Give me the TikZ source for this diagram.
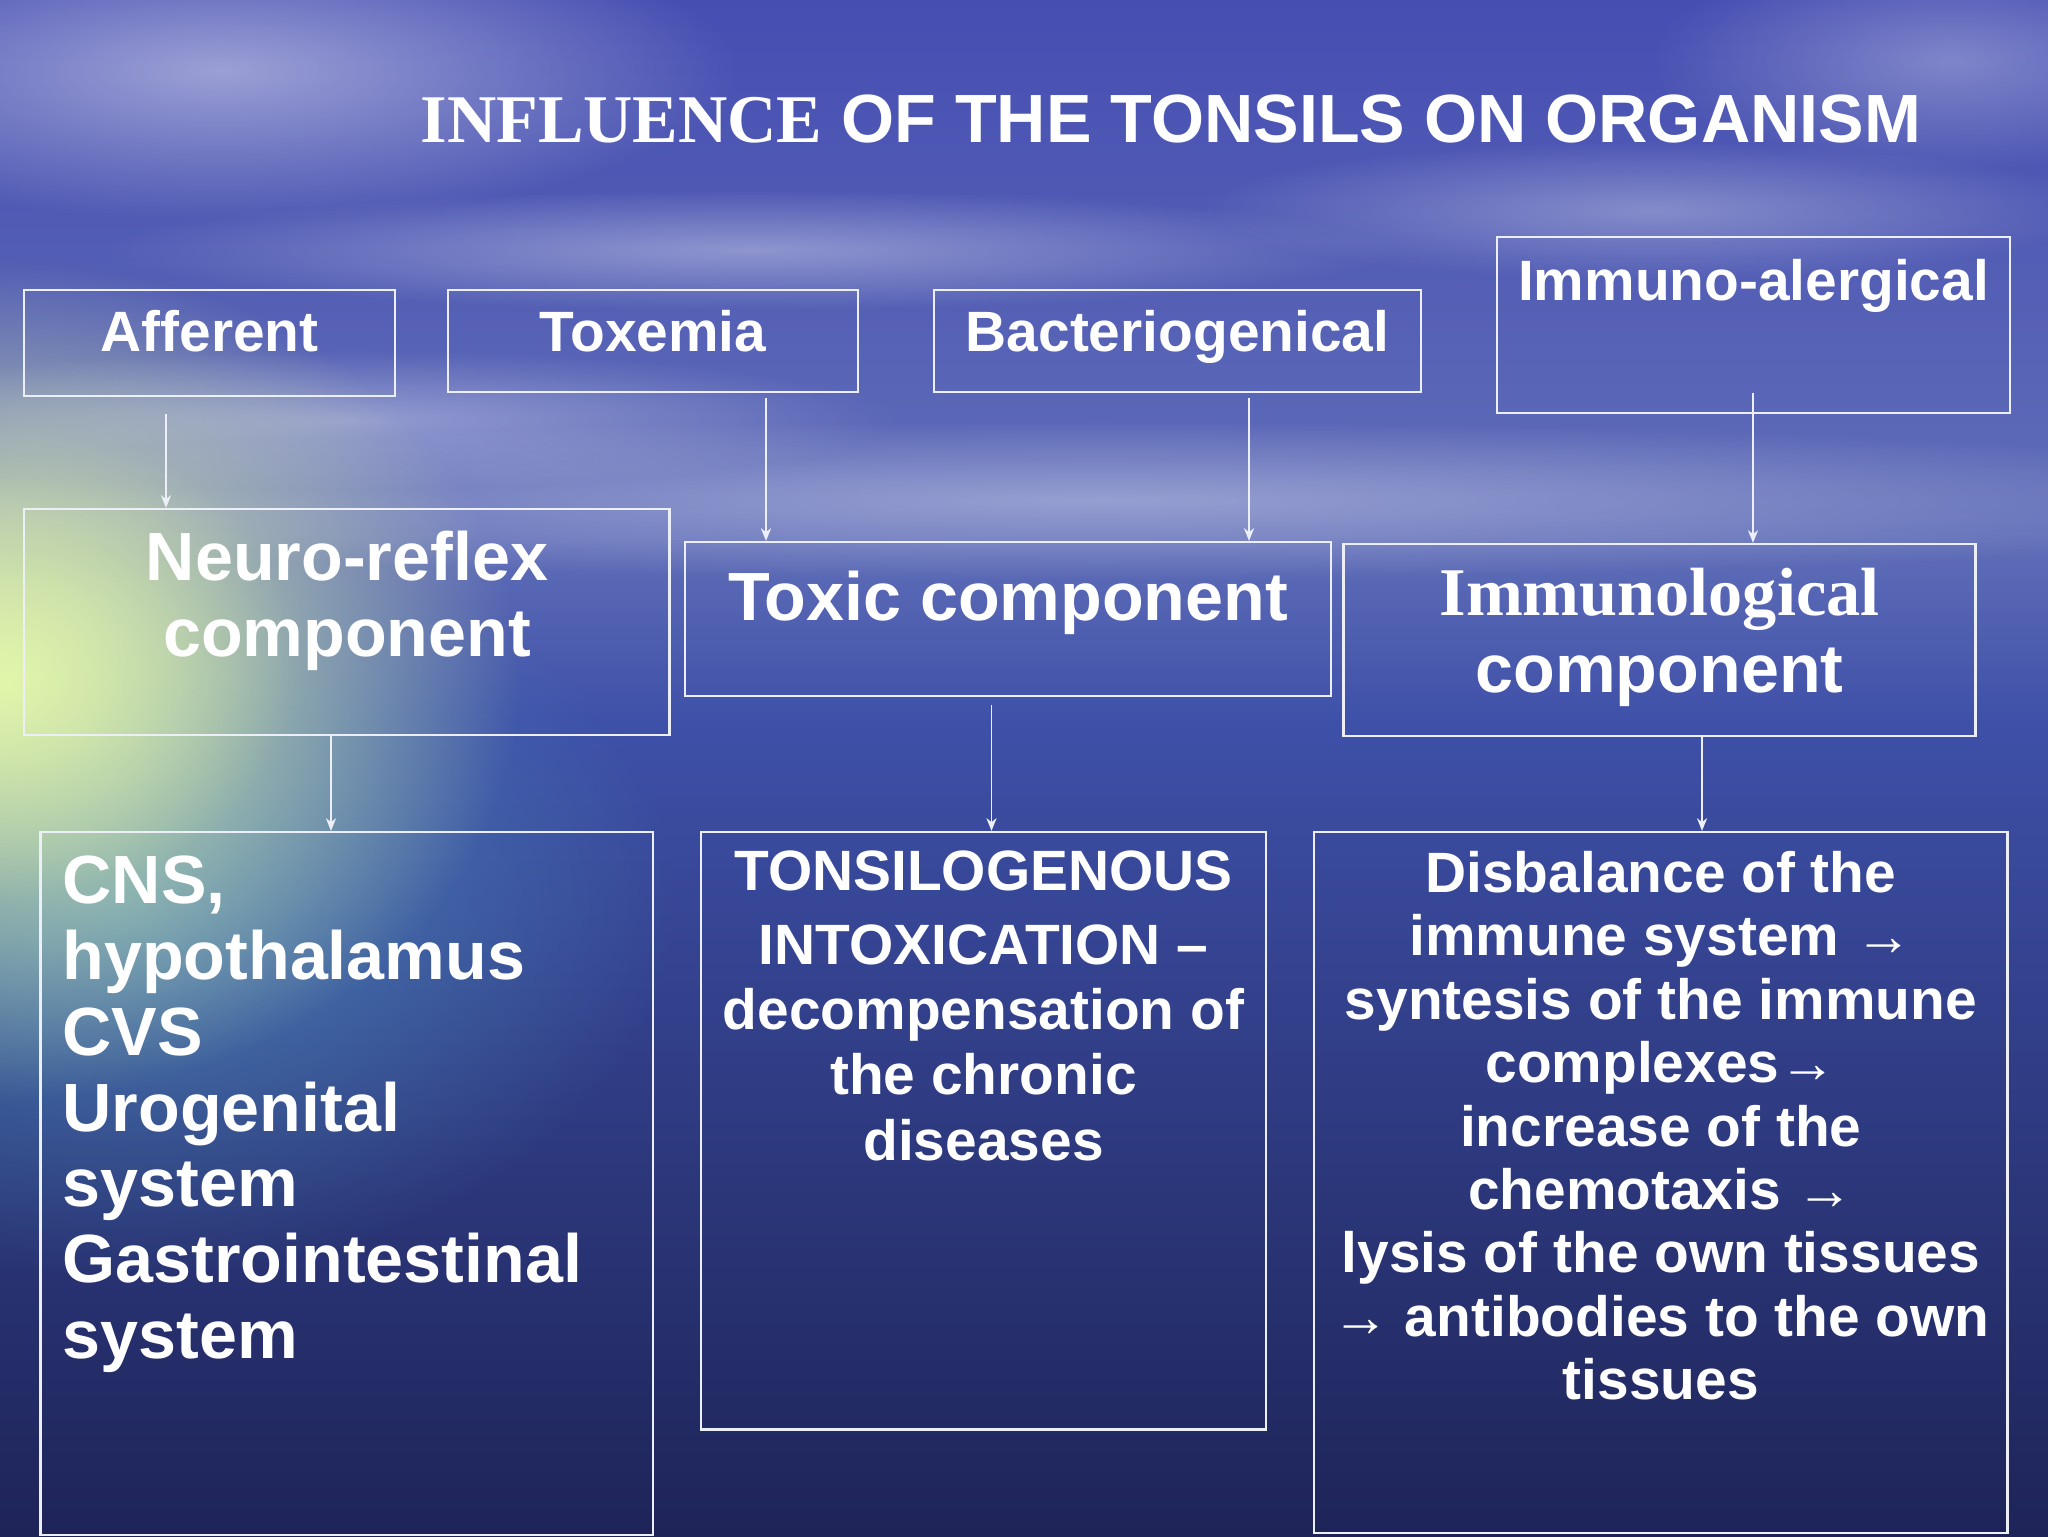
\documentclass[tikz,border=0pt]{standalone}
\usepackage{fontspec}
\setmainfont{Liberation Sans}
\newfontfamily\timesfont{Liberation Serif}
\usetikzlibrary{fit, arrows.meta, fadings}

\definecolor{skytop}{RGB}{70,78,178}
\definecolor{skylow}{RGB}{96,110,184}
\definecolor{seatop}{RGB}{62,80,168}
\definecolor{seabot}{RGB}{30,36,88}
\definecolor{glow}{RGB}{226,246,170}
\definecolor{teal}{RGB}{90,170,205}
\definecolor{boxline}{RGB}{236,238,248}

\tikzfading[name=softglow, inner color=transparent!0, outer color=transparent!100]

\tikzstyle{box} = [rectangle, draw=boxline, line width=0.8pt, inner sep=0pt]
\tikzstyle{lbl} = [text=white, inner sep=0pt, align=center, font=\bfseries\fontsize{20bp}{22.3bp}\selectfont]
\tikzstyle{big} = [lbl, font=\bfseries\fontsize{24bp}{26.7bp}\selectfont]
\tikzstyle{arr} = [draw=boxline, line width=0.5pt, -{Stealth[length=4.5pt,width=3.6pt,inset=1.4pt]}]
\tikzstyle{cloud} = [white, path fading=softglow]

\newcommand{\toarr}{{\timesfont\mdseries →}}

\begin{document}
\begin{tikzpicture}[x=0.0124023cm, y=-0.0124023cm]
\useasboundingbox (0,0) rectangle (2048,1536);

% sky and sea
\shade[top color=skytop, bottom color=skylow] (0,0) rectangle (2048,540);
\shade[top color=skylow, bottom color=seatop] (0,540) rectangle (2048,720);
\shade[top color=seatop, bottom color=seabot] (0,720) rectangle (2048,1536);
\fill[cloud, opacity=.45] (220,70) ellipse (520 and 150);
\fill[cloud, opacity=.35] (750,250) ellipse (650 and 60);
\fill[cloud, opacity=.35] (350,420) ellipse (550 and 70);
\fill[cloud, opacity=.35] (1100,500) ellipse (1300 and 80);
\fill[cloud, opacity=.30] (1650,210) ellipse (450 and 70);
\fill[cloud, opacity=.30] (1950,60) ellipse (300 and 110);
\fill[teal, path fading=softglow, opacity=.6] (120,900) ellipse (560 and 380);
\fill[glow, path fading=softglow] (0,680) ellipse (520 and 420);
\fill[glow, path fading=softglow, opacity=.6] (0,660) ellipse (300 and 240);

\node[anchor=base west, inner sep=0pt, text=white, font=\bfseries\fontsize{24bp}{28bp}\selectfont] (title) at (420,142.7) {{\timesfont INFLUENCE} OF THE TONSILS ON ORGANISM};

% top row
\node (aff) [box, fit={(24,290) (395,396)}] {};
\node (tox) [box, fit={(448,290) (858,392)}] {};
\node (bac) [box, fit={(934,290) (1421,392)}] {};
\node (ima) [box, fit={(1497,237) (2010,413)}] {};
\node[lbl, anchor=base] (aff-t) at (209.5,351.7) {Afferent};
\node[lbl, anchor=base] (tox-t) at (653,351.7) {Toxemia};
\node[lbl, anchor=base] (bac-t) at (1177.5,351.7) {Bacteriogenical};
\node[lbl, anchor=base] (ima-t) at (1753.5,300) {Immuno-alergical};

% components
\node (neu) [box, fit={(24,509) (669.5,735)}] {};
\node (toxc) [box, fit={(685,542) (1331,696)}] {};
\node (imm) [box, fit={(1343.5,544) (1975.5,736)}] {};
\node[big, anchor=base] (neu-t) at (347,656.7) {Neuro-reflex\\component};
\node[big, anchor=base] (toxc-t) at (1008,620) {Toxic component};
\node[big, anchor=base, font=\bfseries\fontsize{24bp}{27.3bp}\selectfont] (imm-t) at (1659.5,692.7) {{\timesfont Immunological}\\component};

% effects
\node (cns) [box, fit={(40.5,832) (653,1535)}] {};
\node (ton) [box, fit={(701,832) (1266,1429.5)}] {};
\node (dis) [box, fit={(1314,832) (2007.5,1533)}] {};
\node[big, anchor=base west, align=left] (cns-t) at (62,1358.8) {CNS,\\hypothalamus\\CVS\\Urogenital\\system\\Gastrointestinal\\system};
\node[lbl, anchor=base, font=\bfseries\fontsize{20bp}{22.9bp}\selectfont] (ton-t) at (983.5,1160) {TONSILOGENOUS\\[3bp]INTOXICATION --\\decompensation of\\the chronic\\diseases};
\node[lbl, anchor=base] (dis-t) at (1660.8,1399.8) {Disbalance of the\\immune system \toarr\\syntesis of the immune\\complexes\toarr\\increase of the\\chemotaxis \toarr\\lysis of the own tissues\\\toarr{} antibodies to the own\\tissues};

\coordinate (ax1) at (166,0);
\coordinate (ax2) at (766,0);
\coordinate (ax3) at (1249,0);
\coordinate (ax4) at (1753,0);
\coordinate (ax5) at (331,0);
\coordinate (ax6) at (991.5,0);
\coordinate (ax7) at (1702,0);

\draw[arr, shorten <=6pt] (aff.south -| ax1) -- (neu.north -| ax1);
\draw[arr, shorten <=1.8pt] (tox.south -| ax2) -- (toxc.north -| ax2);
\draw[arr, shorten <=1.8pt] (bac.south -| ax3) -- (toxc.north -| ax3);
\draw[arr, shorten <=-7.4pt] (ima.south -| ax4) -- (imm.north -| ax4);
\draw[arr] (neu.south -| ax5) -- (cns.north -| ax5);
\draw[arr, shorten <=2.8pt] (toxc.south -| ax6) -- (ton.north -| ax6);
\draw[arr] (imm.south -| ax7) -- (dis.north -| ax7);

\end{tikzpicture}
\end{document}
